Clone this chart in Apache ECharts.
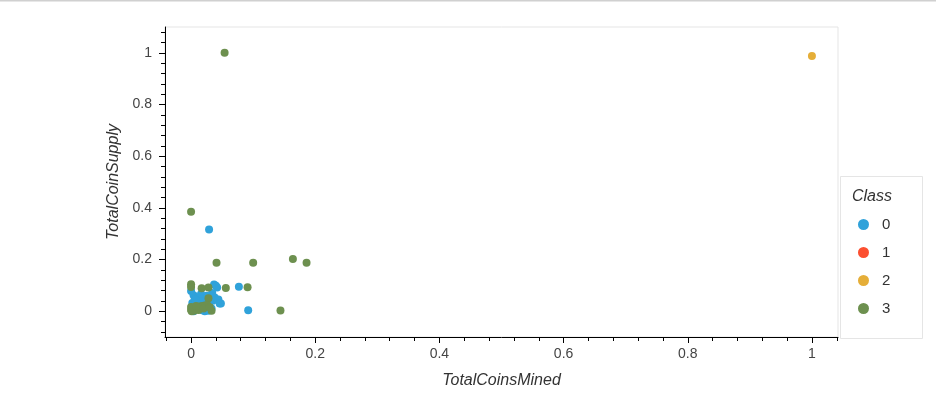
<!DOCTYPE html>
<html>
<head>
<meta charset="utf-8">
<script src="https://cdn.jsdelivr.net/npm/echarts@6/dist/echarts.min.js"></script>
<style>
html,body{margin:0;padding:0;background:#fff;}
#chart{width:936px;height:400px;}
</style>
</head>
<body>
<div id="chart"></div>
<script>
// ---- data (TotalCoinsMined, TotalCoinSupply) ----
const classNames = ['0', '1', '2', '3'];
const class0 = [
  [0.029, 0.316], [0.077, 0.095], [0.092, 0.004], [0.037, 0.103], [0.042, 0.092],
  [0.040, 0.098], [0.048, 0.030], [0.044, 0.045], [0.038, 0.053], [0.000, 0.078],
  [0.004, 0.062], [0.010, 0.052], [0.015, 0.040], [0.020, 0.030], [0.025, 0.020],
  [0.030, 0.036], [0.035, 0.040], [0.002, 0.032], [0.008, 0.022], [0.012, 0.010],
  [0.018, 0.004], [0.022, 0.000], [0.028, 0.002], [0.033, 0.010], [0.004, 0.000],
  [0.010, 0.036], [0.020, 0.050], [0.025, 0.060], [0.031, 0.050], [0.016, 0.066],
  [0.006, 0.046], [0.034, 0.070], [0.046, 0.030]
];
const class1 = [[0.004, 0.008], [0.015, 0.013]];
const class2 = [[1.000, 0.988]];
const class3 = [
  [0.054, 1.000], [0.000, 0.385], [0.041, 0.187], [0.100, 0.187], [0.164, 0.202],
  [0.186, 0.187], [0.091, 0.093], [0.144, 0.003], [0.056, 0.090], [0.028, 0.092],
  [0.017, 0.089], [0.000, 0.104], [0.000, 0.094], [0.028, 0.050], [0.033, 0.002],
  [0.000, 0.005], [0.003, 0.010], [0.006, 0.013], [0.010, 0.015], [0.014, 0.018],
  [0.018, 0.020], [0.022, 0.022], [0.026, 0.024], [0.000, 0.016], [0.005, 0.002],
  [0.012, 0.005], [0.020, 0.010], [0.030, 0.015], [0.001, 0.000], [0.008, 0.020]
];
const seriesData = [class0, class1, class2, class3];
const colors = ['#30a2da', '#fc4f30', '#e5ae38', '#6d904f'];

// ---- ticks ----
const xMajorTicks = [0, 0.2, 0.4, 0.6, 0.8, 1];
const yMajorTicks = [0, 0.2, 0.4, 0.6, 0.8, 1];
function minorTicks(lo, hi) {
  const out = [];
  for (let k = Math.ceil(lo / 0.04 - 1e-9); k * 0.04 <= hi + 1e-9; k++) {
    if (k % 5 !== 0) out.push(Math.round(k * 4) / 100);
  }
  return out;
}
const xMin = -0.042, xMax = 1.042, yMin = -0.1, yMax = 1.1;
const xMinorTicks = minorTicks(xMin, xMax);
const yMinorTicks = minorTicks(yMin, yMax);

const FONT = '"Liberation Sans", Arial, Helvetica, sans-serif';
const fmt = v => String(Math.round(v * 10) / 10);

const chart = echarts.init(document.getElementById('chart'), null, {renderer: 'canvas'});
chart.setOption({
  animation: false,
  backgroundColor: '#fff',
  textStyle: {fontFamily: FONT},
  grid: {left: 165, right: 98, top: 27, bottom: 63, show: true, borderColor: '#e5e5e5', borderWidth: 1, backgroundColor: 'transparent'},
  xAxis: [{
    type: 'value', min: xMin, max: xMax, position: 'bottom',
    name: 'TotalCoinsMined', nameLocation: 'middle', nameGap: 36,
    nameTextStyle: {fontStyle: 'italic', fontSize: 16, color: '#333', fontFamily: FONT},
    axisLine: {show: true, onZero: false, lineStyle: {color: '#000', width: 1}},
    axisTick: {show: true, customValues: xMajorTicks, length: 6, lineStyle: {color: '#000'}},
    axisLabel: {customValues: xMajorTicks, formatter: fmt, margin: 10, fontSize: 14, color: '#444', fontFamily: FONT},
    splitLine: {show: false}
  }, {
    type: 'value', min: xMin, max: xMax, position: 'bottom',
    axisLine: {show: false, onZero: false},
    axisTick: {show: true, customValues: xMinorTicks, length: 4, lineStyle: {color: '#000'}},
    axisLabel: {show: false},
    splitLine: {show: false}
  }],
  yAxis: [{
    type: 'value', min: yMin, max: yMax, position: 'left',
    name: 'TotalCoinSupply', nameLocation: 'middle', nameGap: 43,
    nameTextStyle: {fontStyle: 'italic', fontSize: 16, color: '#333', fontFamily: FONT},
    axisLine: {show: true, onZero: false, lineStyle: {color: '#000', width: 1}},
    axisTick: {show: true, customValues: yMajorTicks, length: 6, lineStyle: {color: '#000'}},
    axisLabel: {customValues: yMajorTicks, formatter: fmt, margin: 13, fontSize: 14, color: '#444', fontFamily: FONT},
    splitLine: {show: false}
  }, {
    type: 'value', min: yMin, max: yMax, position: 'left',
    axisLine: {show: false, onZero: false},
    axisTick: {show: true, customValues: yMinorTicks, length: 4, lineStyle: {color: '#000'}},
    axisLabel: {show: false},
    splitLine: {show: false}
  }],
  legend: {
    orient: 'vertical', left: 858, top: 216, padding: 0,
    icon: 'circle', itemWidth: 11, itemHeight: 11, itemGap: 11,
    data: classNames,
    textStyle: {fontSize: 15, color: '#333', fontFamily: FONT, padding: [0, 0, 0, 8], lineHeight: 17},
    selectedMode: false
  },
  graphic: [
    {type: 'rect', left: 0, top: 0, shape: {width: 936, height: 1.5}, style: {fill: '#d0d0d0'}, silent: true},
    {type: 'rect', left: 838, top: 174, shape: {width: 82, height: 162}, style: {fill: 'none', stroke: '#e5e5e5', lineWidth: 1}, silent: true, z: 0},
    {type: 'text', left: 852, top: 189, style: {text: 'Class', fontSize: 16, fontStyle: 'italic', fill: '#333', fontFamily: FONT}, silent: true}
  ],
  series: classNames.map((n, i) => ({
    name: n, type: 'scatter', xAxisIndex: 0, yAxisIndex: 0,
    data: seriesData[i], symbolSize: 8,
    itemStyle: {color: colors[i], opacity: 1},
    emphasis: {disabled: true}
  }))
});
</script>
</body>
</html>
